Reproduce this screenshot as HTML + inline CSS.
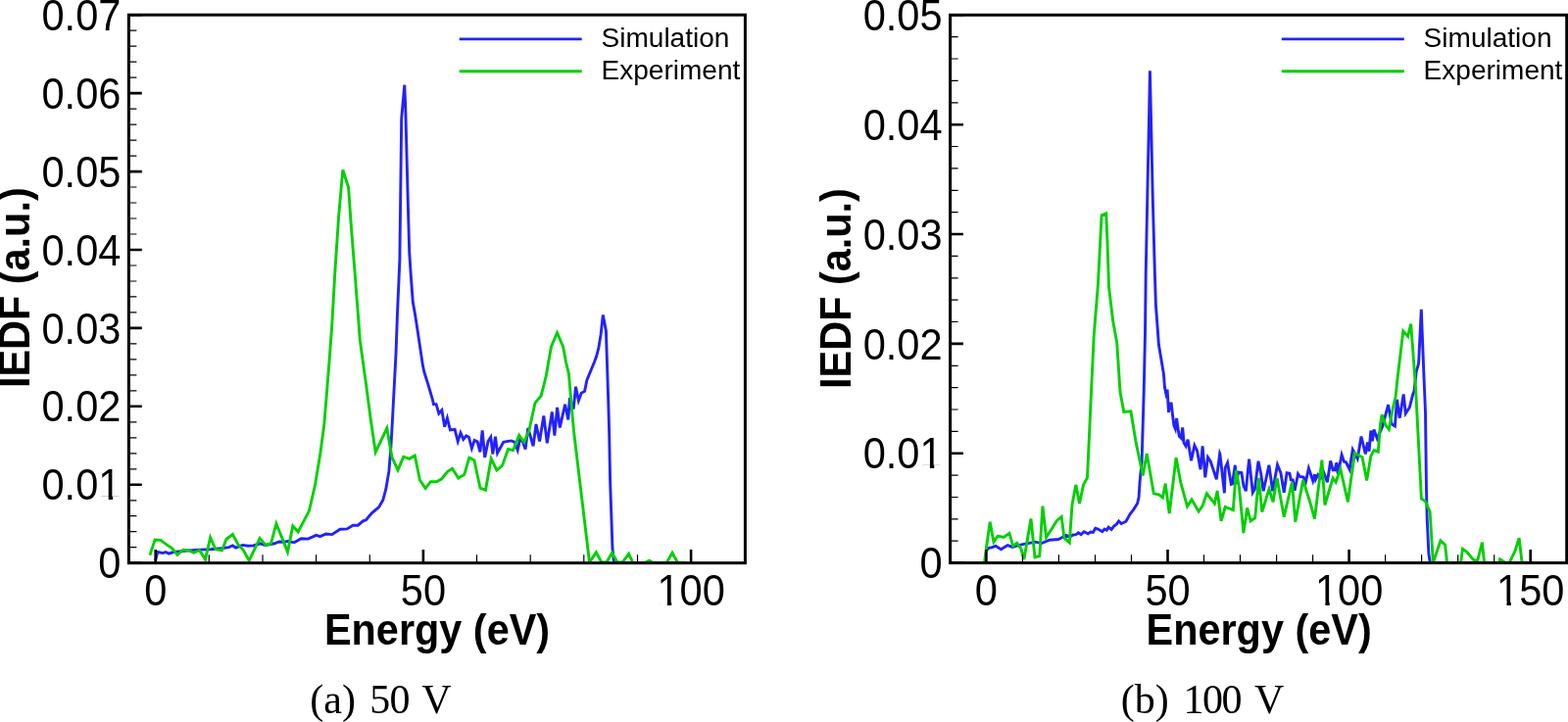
<!DOCTYPE html>
<html><head><meta charset="utf-8"><title>IEDF</title>
<style>
html,body{margin:0;padding:0;background:#fff;}
body{width:1600px;height:737px;overflow:hidden;}
svg{display:block;}
.tl{font-family:"Liberation Sans",Arial,sans-serif;font-size:44px;fill:#000;}
.lg{font-family:"Liberation Sans",Arial,sans-serif;font-size:27.5px;fill:#000;}
.ax{font-family:"Liberation Sans",Arial,sans-serif;font-size:43.6px;font-weight:bold;fill:#000;}
.cap{font-family:"Liberation Serif","Times New Roman",serif;font-size:42px;fill:#000;}
</style></head>
<body>
<svg width="1600" height="737" viewBox="0 0 1600 737">
<rect width="1600" height="737" fill="#fff"/>
<defs><clipPath id="ca"><rect x="131.4" y="15.2" width="629.0" height="559.5"/></clipPath></defs>
<g clip-path="url(#ca)" fill="none" stroke-linejoin="miter" stroke-miterlimit="4">
<polyline points="158.7,572.0 160.9,563.5 166.3,564.6 169.0,563.5 172.3,565.1 177.1,563.5 182.6,563.0 193.4,561.9 204.3,561.1 215.1,560.8 226.0,559.7 233.6,558.6 237.4,557.0 240.6,559.2 247.7,556.4 253.1,557.2 258.5,557.0 265.6,554.8 270.5,556.4 280.3,554.8 284.6,553.0 288.9,553.2 294.0,552.5 300.2,553.8 307.3,549.7 314.4,550.1 322.6,546.4 326.6,547.6 332.7,545.0 338.8,545.6 347.0,540.3 354.1,539.9 360.2,536.2 365.3,536.2 370.4,531.8 373.5,530.8 379.6,523.6 386.7,517.5 390.8,510.4 393.8,499.2 396.9,480.9 398.9,456.5 400.4,430.0 404.0,361.4 405.5,320.0 407.9,265.0 408.7,200.0 409.7,120.9 412.8,86.7 413.8,110.7 416.1,200.0 417.7,257.0 419.2,280.0 421.3,308.5 423.4,320.0 425.4,332.9 431.5,373.6 432.9,380.0 437.6,394.9 441.7,409.2 442.4,412.6 445.1,412.6 447.8,422.1 450.9,418.7 453.7,435.7 456.4,426.8 459.4,439.0 464.1,438.4 467.2,450.6 470.0,441.8 472.9,448.5 475.7,444.9 478.4,446.2 481.4,457.6 484.1,449.5 487.2,450.9 489.9,461.4 492.2,439.5 494.7,466.9 498.0,450.6 500.8,446.2 502.8,463.5 505.5,445.8 507.6,462.5 513.7,451.3 517.1,450.6 521.8,449.9 525.2,451.3 528.2,459.4 530.6,448.5 533.3,450.6 536.1,458.5 538.8,437.0 544.1,455.4 547.0,433.0 550.6,450.5 554.8,424.5 558.3,452.2 563.3,420.5 565.9,444.6 568.6,416.0 571.3,436.5 576.6,412.7 579.8,428.5 581.4,406.1 585.2,417.5 587.5,394.7 590.4,408.9 593.2,401.3 596.6,399.4 598.9,388.0 606.4,369.8 608.6,363.8 610.9,354.8 613.1,341.4 615.3,321.4 618.4,337.7 620.6,405.0 621.6,440.0 622.6,491.0 625.0,560.3 626.6,574.7 700.0,574.7" stroke="#2222ff" stroke-width="2.9"/>
<polyline points="152.9,566.7 158.1,551.0 163.9,551.4 170.6,556.4 175.8,559.8 181.0,566.4 187.0,561.2 192.9,561.9 197.7,564.2 203.7,561.7 209.5,571.1 214.6,548.6 220.0,560.8 226.5,561.9 230.9,550.5 237.4,545.4 243.3,556.4 248.2,561.3 254.2,572.2 265.1,549.4 271.0,556.4 276.5,554.8 281.9,534.5 293.5,563.4 298.8,536.9 304.2,543.0 315.4,521.6 321.5,495.1 326.6,464.6 330.7,434.0 332.7,410.3 335.8,371.6 338.8,330.9 342.0,274.6 345.6,221.0 349.8,173.4 355.6,191.5 358.5,233.2 362.0,277.0 365.3,320.7 367.3,347.2 373.5,392.0 378.5,430.0 383.2,461.5 394.8,437.1 399.9,466.6 406.0,479.9 411.7,466.2 417.8,468.3 423.3,465.0 428.4,490.0 434.1,498.6 439.4,491.7 445.3,491.7 450.4,489.1 456.5,481.5 461.5,478.3 467.7,488.1 473.8,484.4 478.8,467.3 483.9,469.7 490.0,498.2 495.5,500.3 501.2,468.1 506.9,479.9 512.4,475.4 518.5,458.5 523.6,459.6 529.7,444.3 534.8,451.4 539.9,439.2 546.0,411.3 552.2,403.8 557.3,383.5 562.4,353.9 568.5,339.7 574.6,353.9 577.6,370.0 580.4,381.4 582.0,400.4 583.3,415.6 585.5,440.0 601.5,574.0 608.3,563.9 613.8,574.0 619.0,574.0 624.5,564.3 630.0,574.0 635.1,574.0 641.6,565.4 645.9,574.7 657.0,574.7 662.6,572.1 666.7,574.7 680.0,574.7 686.0,564.3 691.7,574.7 700.0,574.7" stroke="#00d000" stroke-width="2.9"/>
</g>
<path d="M158.7,574.7V561.0 M431.9,574.7V561.0 M705.1,574.7V561.0" stroke="#000" stroke-width="2.6" fill="none"/>
<path d="M213.3,574.7V566.3000000000001 M268.0,574.7V566.3000000000001 M322.6,574.7V566.3000000000001 M377.3,574.7V566.3000000000001 M486.5,574.7V566.3000000000001 M541.2,574.7V566.3000000000001 M595.8,574.7V566.3000000000001 M650.5,574.7V566.3000000000001" stroke="#000" stroke-width="1.2" fill="none"/>
<path d="M131.4,574.7H144.8 M131.4,494.8H144.8 M131.4,414.8H144.8 M131.4,334.9H144.8 M131.4,255.0H144.8 M131.4,175.1H144.8 M131.4,95.1H144.8 M131.4,15.2H144.8" stroke="#000" stroke-width="2.6" fill="none"/>
<path d="M131.4,558.7H139.4 M131.4,542.7H139.4 M131.4,526.7H139.4 M131.4,510.8H139.4 M131.4,478.8H139.4 M131.4,462.8H139.4 M131.4,446.8H139.4 M131.4,430.8H139.4 M131.4,398.9H139.4 M131.4,382.9H139.4 M131.4,366.9H139.4 M131.4,350.9H139.4 M131.4,318.9H139.4 M131.4,302.9H139.4 M131.4,287.0H139.4 M131.4,271.0H139.4 M131.4,239.0H139.4 M131.4,223.0H139.4 M131.4,207.0H139.4 M131.4,191.0H139.4 M131.4,159.1H139.4 M131.4,143.1H139.4 M131.4,127.1H139.4 M131.4,111.1H139.4 M131.4,79.1H139.4 M131.4,63.1H139.4 M131.4,47.2H139.4 M131.4,31.2H139.4" stroke="#000" stroke-width="1.2" fill="none"/>
<rect x="131.4" y="15.2" width="629.0" height="559.5" fill="none" stroke="#000" stroke-width="3"/>
<g transform="translate(123.4,590.3) scale(0.945,1)"><text class="tl" text-anchor="end">0</text></g>
<g transform="translate(123.4,510.4) scale(0.945,1)"><text class="tl" text-anchor="end">0.01</text><path fill="#fff" d="M-21.61,-3.7H-13.41V0.9H-21.61ZM-8.82,-3.7H-1.59V0.9H-8.82Z"/></g>
<g transform="translate(123.4,430.4) scale(0.945,1)"><text class="tl" text-anchor="end">0.02</text></g>
<g transform="translate(123.4,350.5) scale(0.945,1)"><text class="tl" text-anchor="end">0.03</text></g>
<g transform="translate(123.4,270.6) scale(0.945,1)"><text class="tl" text-anchor="end">0.04</text></g>
<g transform="translate(123.4,190.7) scale(0.945,1)"><text class="tl" text-anchor="end">0.05</text></g>
<g transform="translate(123.4,110.7) scale(0.945,1)"><text class="tl" text-anchor="end">0.06</text></g>
<g transform="translate(123.4,30.8) scale(0.945,1)"><text class="tl" text-anchor="end">0.07</text></g>
<g transform="translate(158.7,617.5) scale(0.945,1)"><text class="tl" text-anchor="middle">0</text></g>
<g transform="translate(431.9,617.5) scale(0.945,1)"><text class="tl" text-anchor="middle">50</text></g>
<g transform="translate(705.1,617.5) scale(0.945,1)"><text class="tl" text-anchor="middle">100</text><path fill="#fff" d="M-33.85,-3.7H-25.64V0.9H-33.85ZM-21.05,-3.7H-13.83V0.9H-21.05Z"/></g>
<path d="M468.7,39.9H593.7" stroke="#2222ff" stroke-width="2.9"/>
<path d="M468.7,72.8H593.7" stroke="#00d000" stroke-width="2.9"/>
<text class="lg" transform="translate(613.5,48.099999999999994) scale(1.02,1)">Simulation</text>
<text class="lg" transform="translate(613.5,80.89999999999999) scale(1.02,1)">Experiment</text>
<text class="ax" transform="translate(446,658.2) scale(0.95,1)" text-anchor="middle">Energy (eV)</text>
<text class="ax" transform="translate(30.2,293.7) rotate(-90) scale(0.95,1)" text-anchor="middle">IEDF (a.u.)</text>
<defs><clipPath id="cb"><rect x="969.6" y="15.3" width="629.1" height="559.3000000000001"/></clipPath></defs>
<g clip-path="url(#cb)" fill="none" stroke-linejoin="miter" stroke-miterlimit="4">
<polyline points="1006.4,562.0 1009.2,559.3 1012.6,558.7 1016.0,557.3 1021.4,560.7 1028.2,556.6 1033.0,558.4 1042.5,555.9 1050.6,554.3 1056.0,553.2 1062.8,554.6 1071.0,551.2 1080.0,550.5 1083.0,549.0 1087.5,546.4 1091.9,547.9 1094.9,546.0 1097.9,545.7 1100.5,543.8 1103.1,545.7 1106.1,542.7 1110.2,544.9 1112.8,543.1 1115.4,543.4 1117.7,539.3 1120.3,540.1 1124.8,542.7 1127.0,540.1 1129.3,541.2 1131.1,538.2 1134.1,540.4 1136.7,537.1 1139.3,535.2 1141.6,531.9 1144.2,534.5 1149.0,532.2 1153.1,524.8 1156.5,520.3 1160.6,514.0 1162.1,507.2 1163.1,491.6 1165.1,471.2 1167.2,400.0 1168.5,340.0 1169.2,280.0 1170.8,200.0 1172.5,120.0 1173.4,72.2 1174.5,120.0 1176.2,200.0 1178.4,280.0 1179.4,311.1 1182.4,351.8 1187.5,382.3 1188.4,395.0 1189.8,401.8 1191.1,397.7 1192.5,420.8 1193.8,412.0 1195.2,412.0 1196.5,423.5 1197.9,434.4 1199.3,437.8 1200.6,426.9 1202.0,437.1 1203.3,445.2 1205.4,447.3 1206.7,436.4 1208.1,452.0 1210.1,455.4 1212.1,448.6 1215.5,470.3 1218.9,454.7 1221.6,460.2 1225.0,479.2 1227.1,455.4 1229.8,487.3 1232.5,466.9 1235.2,471.0 1237.3,477.1 1241.3,489.3 1244.7,462.9 1244.9,463.4 1249.4,503.3 1250.2,477.7 1252.6,472.4 1256.3,494.4 1257.5,494.0 1260.3,474.8 1261.6,494.0 1263.6,482.2 1266.9,482.6 1268.9,495.6 1271.3,501.3 1274.6,468.7 1278.3,502.9 1280.3,499.6 1284.0,470.8 1286.8,484.2 1289.2,501.3 1294.9,474.8 1298.6,501.3 1303.5,474.4 1306.9,482.7 1310.2,502.7 1313.1,482.7 1315.9,483.2 1317.3,489.9 1319.2,489.9 1321.1,500.8 1324.5,483.7 1326.4,486.5 1330.2,487.0 1332.1,493.2 1335.4,478.0 1339.7,490.8 1341.6,484.2 1342.5,489.4 1344.9,484.6 1347.7,488.0 1350.6,481.8 1354.4,492.2 1357.7,470.4 1360.1,479.9 1362.0,479.9 1363.9,472.3 1365.3,483.7 1369.1,464.2 1371.5,471.3 1373.4,471.8 1377.1,479.1 1380.3,459.1 1385.2,468.3 1389.0,445.5 1393.3,463.4 1395.5,451.5 1397.1,460.7 1398.8,439.5 1400.4,450.4 1402.0,438.4 1405.3,447.7 1410.7,435.2 1416.6,413.2 1420.0,432.9 1423.4,435.0 1425.5,407.8 1428.2,426.8 1432.2,402.4 1434.3,422.1 1438.3,416.0 1441.7,402.4 1443.1,399.0 1445.2,379.4 1447.6,370.8 1450.3,315.9 1453.0,385.0 1454.5,420.7 1455.5,500.0 1456.2,530.0 1457.2,550.6 1457.9,565.5 1459.4,574.6 1560.0,574.6" stroke="#2222ff" stroke-width="2.9"/>
<polyline points="1004.5,574.6 1006.5,558.7 1010.2,532.8 1014.0,553.2 1018.1,547.1 1024.2,548.5 1030.0,544.4 1033.7,557.3 1037.7,554.3 1041.8,560.0 1044.9,570.9 1052.0,529.5 1056.0,568.8 1060.8,567.5 1063.9,516.6 1067.6,548.5 1073.7,539.0 1078.4,531.5 1083.2,527.5 1085.9,549.2 1091.3,553.9 1094.0,515.3 1097.8,494.9 1101.5,513.9 1105.5,494.9 1109.5,487.5 1111.2,450.9 1113.5,400.0 1116.3,341.6 1120.4,290.7 1122.5,250.0 1124.1,219.8 1128.7,217.9 1130.1,250.0 1131.5,292.7 1135.6,327.3 1139.7,349.7 1143.0,400.0 1146.8,420.4 1153.9,419.9 1159.0,450.9 1166.2,485.5 1170.2,463.1 1177.3,503.8 1182.4,504.8 1186.5,507.9 1189.2,493.6 1193.2,524.2 1200.1,467.2 1204.8,492.6 1211.5,517.0 1216.0,509.9 1223.1,522.1 1227.2,516.0 1231.3,503.8 1239.4,514.0 1242.2,501.0 1246.1,531.8 1250.2,517.5 1258.3,520.6 1261.4,479.9 1264.4,497.2 1268.9,544.0 1272.6,518.5 1276.2,531.8 1280.7,528.7 1284.4,488.0 1287.8,522.6 1295.0,499.2 1299.0,512.4 1303.1,488.0 1310.2,527.7 1318.4,492.1 1321.8,532.8 1329.6,490.0 1336.7,512.4 1341.4,529.7 1348.9,469.7 1351.9,515.5 1360.1,488.0 1363.1,492.1 1367.8,478.8 1375.4,512.4 1382.3,462.7 1390.1,466.7 1394.7,490.5 1398.8,465.6 1402.0,459.6 1406.3,461.2 1408.5,433.0 1410.1,423.3 1413.9,434.1 1417.3,438.3 1421.4,416.0 1424.1,405.1 1425.6,390.0 1431.8,337.9 1436.6,343.4 1439.7,330.5 1444.5,395.0 1450.4,509.0 1454.5,511.7 1459.1,522.3 1462.4,574.6 1469.9,551.8 1474.6,556.3 1476.6,574.6 1490.5,574.6 1492.5,560.3 1496.7,563.3 1504.2,572.2 1507.9,571.5 1512.4,553.6 1514.6,574.6 1529.8,574.6 1530.6,570.9 1534.3,573.2 1536.0,574.6 1540.0,574.6 1546.0,562.5 1550.1,549.1 1553.1,574.6 1560.0,574.6" stroke="#00d000" stroke-width="2.9"/>
</g>
<path d="M1006.4,574.6V560.9 M1191.5,574.6V560.9 M1376.6,574.6V560.9 M1561.7,574.6V560.9" stroke="#000" stroke-width="2.6" fill="none"/>
<path d="M1043.4,574.6V566.2 M1080.4,574.6V566.2 M1117.5,574.6V566.2 M1154.5,574.6V566.2 M1228.5,574.6V566.2 M1265.5,574.6V566.2 M1302.6,574.6V566.2 M1339.6,574.6V566.2 M1413.6,574.6V566.2 M1450.6,574.6V566.2 M1487.7,574.6V566.2 M1524.7,574.6V566.2" stroke="#000" stroke-width="1.2" fill="none"/>
<path d="M969.6,574.6H983.0 M969.6,462.7H983.0 M969.6,350.9H983.0 M969.6,239.0H983.0 M969.6,127.2H983.0 M969.6,15.3H983.0" stroke="#000" stroke-width="2.6" fill="none"/>
<path d="M969.6,552.2H977.6 M969.6,529.9H977.6 M969.6,507.5H977.6 M969.6,485.1H977.6 M969.6,440.4H977.6 M969.6,418.0H977.6 M969.6,395.6H977.6 M969.6,373.3H977.6 M969.6,328.5H977.6 M969.6,306.1H977.6 M969.6,283.8H977.6 M969.6,261.4H977.6 M969.6,216.6H977.6 M969.6,194.3H977.6 M969.6,171.9H977.6 M969.6,149.5H977.6 M969.6,104.8H977.6 M969.6,82.4H977.6 M969.6,60.0H977.6 M969.6,37.7H977.6" stroke="#000" stroke-width="1.2" fill="none"/>
<rect x="969.6" y="15.3" width="629.1" height="559.3000000000001" fill="none" stroke="#000" stroke-width="3"/>
<g transform="translate(961.6,590.2) scale(0.945,1)"><text class="tl" text-anchor="end">0</text></g>
<g transform="translate(961.6,478.3) scale(0.945,1)"><text class="tl" text-anchor="end">0.01</text><path fill="#fff" d="M-21.61,-3.7H-13.41V0.9H-21.61ZM-8.82,-3.7H-1.59V0.9H-8.82Z"/></g>
<g transform="translate(961.6,366.5) scale(0.945,1)"><text class="tl" text-anchor="end">0.02</text></g>
<g transform="translate(961.6,254.6) scale(0.945,1)"><text class="tl" text-anchor="end">0.03</text></g>
<g transform="translate(961.6,142.8) scale(0.945,1)"><text class="tl" text-anchor="end">0.04</text></g>
<g transform="translate(961.6,30.9) scale(0.945,1)"><text class="tl" text-anchor="end">0.05</text></g>
<g transform="translate(1006.4,617.5) scale(0.945,1)"><text class="tl" text-anchor="middle">0</text></g>
<g transform="translate(1191.5,617.5) scale(0.945,1)"><text class="tl" text-anchor="middle">50</text></g>
<g transform="translate(1376.6,617.5) scale(0.945,1)"><text class="tl" text-anchor="middle">100</text><path fill="#fff" d="M-33.85,-3.7H-25.64V0.9H-33.85ZM-21.05,-3.7H-13.83V0.9H-21.05Z"/></g>
<g transform="translate(1561.7,617.5) scale(0.945,1)"><text class="tl" text-anchor="middle">150</text><path fill="#fff" d="M-33.85,-3.7H-25.64V0.9H-33.85ZM-21.05,-3.7H-13.83V0.9H-21.05Z"/></g>
<path d="M1307.8,39.9H1432.8" stroke="#2222ff" stroke-width="2.9"/>
<path d="M1307.8,72.8H1432.8" stroke="#00d000" stroke-width="2.9"/>
<text class="lg" transform="translate(1452.6,48.099999999999994) scale(1.02,1)">Simulation</text>
<text class="lg" transform="translate(1452.6,80.89999999999999) scale(1.02,1)">Experiment</text>
<text class="ax" transform="translate(1284.6,658.2) scale(0.95,1)" text-anchor="middle">Energy (eV)</text>
<text class="ax" transform="translate(868.4,294.5) rotate(-90) scale(0.95,1)" text-anchor="middle">IEDF (a.u.)</text>
<text class="cap" x="316.3" y="727.6">(a)<tspan dx="3.9"> </tspan><tspan letter-spacing="-0.9">50</tspan><tspan dx="3.1"> V</tspan></text>
<text class="cap" x="1143.8" y="727.6">(b)<tspan dx="4.3"> </tspan><tspan letter-spacing="-1.5">100</tspan><tspan dx="4.3"> V</tspan></text>
</svg>
</body></html>
